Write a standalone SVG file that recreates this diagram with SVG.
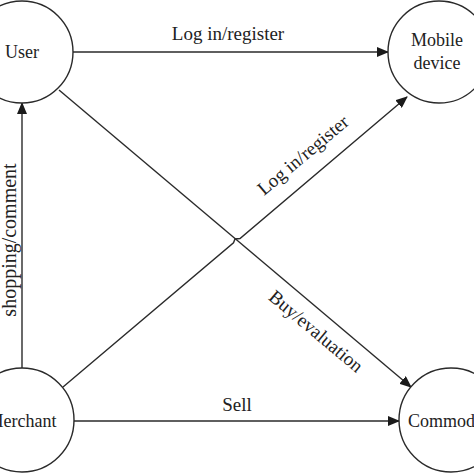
<svg xmlns="http://www.w3.org/2000/svg" width="474" height="474" viewBox="0 0 474 474">
<style>
.node{fill:#fff;stroke:#2a2a2a;stroke-width:1.4}
.edge{fill:none;stroke:#2a2a2a;stroke-width:1.4}
text{font-family:"Liberation Serif","Times New Roman",serif;font-size:18px;fill:#222;text-anchor:middle}
.lbl{font-size:19px}
</style>
<defs>
<marker id="arr" markerWidth="12" markerHeight="10" refX="11" refY="5" orient="auto" markerUnits="userSpaceOnUse">
<path d="M0,0 L12,5 L0,10 Z" fill="#1a1a1a"/>
</marker>
</defs>
<rect width="474" height="474" fill="#fff"/>
<g id="connectors">
<line class="edge" x1="73" y1="52" x2="388" y2="52" marker-end="url(#arr)"/>
<line class="edge" x1="22" y1="368" x2="22" y2="103" marker-end="url(#arr)"/>
<line class="edge" x1="74" y1="421" x2="399" y2="421" marker-end="url(#arr)"/>
<path class="edge" d="M63,387 L233.5,242.8 L235,239 L240,238.5 L407,97" marker-end="url(#arr)"/>
<line class="edge" x1="59" y1="90" x2="411" y2="387" marker-end="url(#arr)"/>
<text class="lbl" x="228" y="40">Log in/register</text>
<text class="lbl" x="237" y="411">Sell</text>
<text class="lbl" style="font-size:20px" transform="translate(16,240) rotate(-90)">shopping/comment</text>
<text class="lbl" transform="translate(307,160) rotate(-40)">Log in/register</text>
<text class="lbl" transform="translate(312,336) rotate(40)">Buy/evaluation</text>
</g>
<g id="user">
<circle class="node" cx="22" cy="52" r="51"/>
<text x="22" y="58">User</text>
</g>
<g id="mobile">
<circle class="node" cx="439" cy="52" r="51"/>
<text x="437" y="46">Mobile</text>
<text x="437" y="69">device</text>
</g>
<g id="merchant">
<circle class="node" cx="22" cy="420" r="52"/>
<text x="22" y="427">Merchant</text>
</g>
<g id="commodity">
<circle class="node" cx="451" cy="420" r="52"/>
<text x="451" y="427">Commodity</text>
</g>
</svg>
